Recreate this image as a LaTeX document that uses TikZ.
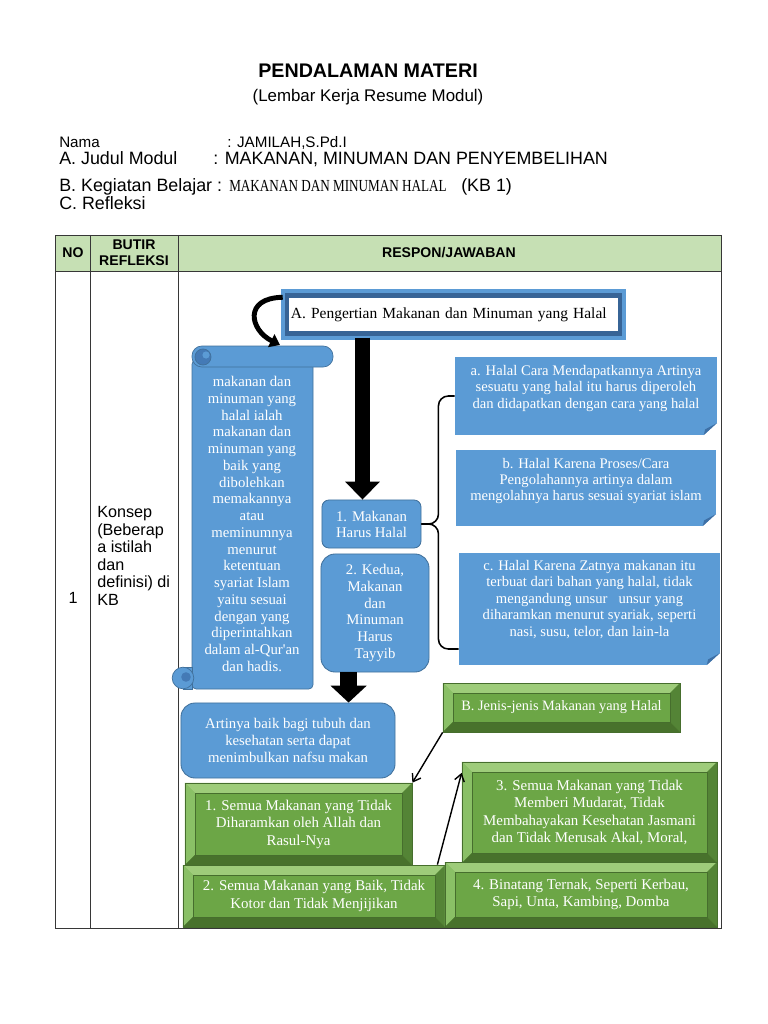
\documentclass[tikz,border=0pt]{standalone}
\usepackage{fontspec}
\setmainfont{Liberation Sans}
\newfontfamily\kbserif{Liberation Serif}
\newfontfamily\kbnarrow[FakeStretch=0.78]{Liberation Serif}
\usetikzlibrary{arrows.meta,positioning}

\definecolor{hdrgreen}{RGB}{198,224,180}
\definecolor{boxblue}{RGB}{91,155,213}
\definecolor{edgeblue}{RGB}{65,113,156}
\definecolor{framedark}{RGB}{55,100,150}
\definecolor{folddark}{RGB}{62,112,166}
\definecolor{scrolldark}{RGB}{68,122,182}
\definecolor{facegreen}{RGB}{108,166,70}
\definecolor{edgegreen}{RGB}{70,110,45}
\definecolor{bevtop}{RGB}{158,204,122}
\definecolor{bevleft}{RGB}{138,192,102}
\definecolor{bevright}{RGB}{84,132,54}
\definecolor{bevbot}{RGB}{72,114,44}
\definecolor{rulegray}{RGB}{55,55,55}

\begin{document}
\begin{tikzpicture}[
    x=0.025cm, y=-0.025cm,
    rule/.style={rulegray, line width=0.7pt},
    hdr/.style={font=\bfseries\fontsize{10}{11.5}\selectfont, align=center},
    info/.style={anchor=base west, inner sep=0pt, font=\fontsize{12.7}{14}\selectfont},
    bluebox/.style={rectangle, fill=boxblue, draw=edgeblue, line width=0.6pt, text=white,
        align=center, font=\kbserif\fontsize{10.5}{12}\selectfont},
    foldbox/.style={rectangle, fill=boxblue, text=white, align=center,
        font=\kbserif\fontsize{10.4}{11.7}\selectfont,
        path picture={
            \fill[white] ([xshift=-0.33cm]path picture bounding box.south east)
                -- (path picture bounding box.south east)
                -- ([yshift=0.3cm]path picture bounding box.south east) -- cycle;
            \fill[folddark] ([xshift=-0.33cm]path picture bounding box.south east)
                -- ([yshift=0.3cm]path picture bounding box.south east)
                -- ([shift={(-0.3cm,0.14cm)}]path picture bounding box.south east) -- cycle;
        }},
    greenbox/.style={rectangle, fill=facegreen, draw=edgegreen, line width=0.5pt, text=white,
        align=center, font=\kbserif\fontsize{10.6}{12.4}\selectfont,
        path picture={
            \coordinate (bnw) at (path picture bounding box.north west);
            \coordinate (bne) at (path picture bounding box.north east);
            \coordinate (bsw) at (path picture bounding box.south west);
            \coordinate (bse) at (path picture bounding box.south east);
            \fill[bevtop] (bnw) -- (bne) -- ([shift={(-0.25cm,-0.25cm)}]bne) -- ([shift={(0.25cm,-0.25cm)}]bnw) -- cycle;
            \fill[bevleft] (bnw) -- (bsw) -- ([shift={(0.25cm,0.25cm)}]bsw) -- ([shift={(0.25cm,-0.25cm)}]bnw) -- cycle;
            \fill[bevright] (bne) -- (bse) -- ([shift={(-0.25cm,0.25cm)}]bse) -- ([shift={(-0.25cm,-0.25cm)}]bne) -- cycle;
            \fill[bevbot] (bsw) -- (bse) -- ([shift={(-0.25cm,0.25cm)}]bse) -- ([shift={(0.25cm,0.25cm)}]bsw) -- cycle;
            \draw[edgegreen, line width=0.4pt] ([shift={(0.25cm,-0.25cm)}]bnw) rectangle ([shift={(-0.25cm,0.25cm)}]bse);
        }},
    bigarrow/.style={black, line width=10.6pt, -{Triangle[width=24pt, length=12.8pt]}},
    thinarrow/.style={black, line width=1pt, -{Straight Barb[length=5pt, width=7pt]}},
    brace/.style={black, line width=1.1pt, rounded corners=7pt}
]
\useasboundingbox[fill=white] (0,0) rectangle (768,1024);

% Heading
\node[font=\bfseries\fontsize{14}{16}\selectfont] (title) at (368,71) {PENDALAMAN MATERI};
\node[font=\fontsize{12}{14}\selectfont] (subtitle) at (368,97) {(Lembar Kerja Resume Modul)};

% Identity
\node[info, font=\fontsize{10.8}{13}\selectfont] (nama) at (59,148) {Nama};
\node[info, font=\fontsize{10.8}{13}\selectfont] (namaisi) at (227,148) {: JAMILAH,S.Pd.I};
\node[info] (judul) at (59,165) {A. Judul Modul};
\node[info] (judulisi) at (213,165) {: MAKANAN, MINUMAN DAN PENYEMBELIHAN};
\node[info] (kb) at (59,192) {B. Kegiatan Belajar :};
\node[info, font=\kbnarrow\fontsize{12}{13}\selectfont] (kbisi) at (229,192) {MAKANAN DAN MINUMAN HALAL};
\node[info] (kbno) at (461,192) {(KB 1)};
\node[info] (refleksi) at (59,210) {C. Refleksi};

% Table
\fill[hdrgreen] (55,235) rectangle (721,271);
\draw[rule] (55,235) rectangle (721,928);
\draw[rule] (55,271) -- (721,271);
\draw[rule] (90,235) -- (90,928);
\draw[rule] (178,235) -- (178,928);

\node[hdr] (hno) at (73,253) {NO};
\node[hdr] (hbutir) at (134,253) {BUTIR\\REFLEKSI};
\node[hdr] (hrespon) at (449,253) {RESPON/JAWABAN};

\node[font=\fontsize{11.5}{13}\selectfont] (no) at (73,598) {1};
\node[anchor=west, align=left, inner sep=0pt, font=\fontsize{11.5}{12.4}\selectfont] (butir) at (97,556)
    {Konsep\\(Beberap\\a istilah\\dan\\definisi) di\\KB};

% Title box
\node[rectangle, fill=white, draw=framedark, line width=4.6pt, minimum width=8.375cm, minimum height=1.0cm,
    inner xsep=0.125cm, text width=8.125cm, align=left, font=\kbserif\fontsize{11}{13}\selectfont] (pengertian) at (453.5,314.5)
    {A. Pengertian Makanan dan Minuman yang Halal};
\draw[boxblue, line width=3pt] (pengertian.north west) rectangle (pengertian.south east);

% Scroll
\fill[boxblue, draw=edgeblue, line width=0.5pt, rounded corners=3pt] (192,360) rectangle (313,689);
\fill[boxblue, draw=edgeblue, line width=0.5pt] (183,667) -- (192,667) -- (192,689) -- (183,689) -- cycle;
\fill[boxblue, draw=edgeblue, line width=0.5pt, rounded corners=7pt] (192,346) rectangle (333,367);
\fill[scrolldark, draw=edgeblue, line width=0.5pt] (203,357) circle (0.2cm);
\fill[boxblue] (206,355) circle (0.09cm);
\fill[boxblue, draw=edgeblue, line width=0.5pt] (183,678) circle (0.27cm);
\fill[scrolldark] (186,677) circle (0.12cm);
\node[text=white, align=center, font=\kbserif\fontsize{10.5}{11.9}\selectfont] (scrolltext) at (252,524)
    {makanan dan\\minuman yang\\halal ialah\\makanan dan\\minuman yang\\baik yang\\dibolehkan\\memakannya\\atau\\meminumnya\\menurut\\ketentuan\\syariat Islam\\yaitu sesuai\\dengan yang\\diperintahkan\\dalam al-Qur'an\\dan hadis.};
\coordinate (scrolltop) at (280,345);

% Blue boxes
\node[bluebox, rounded corners=5pt, minimum width=2.475cm, minimum height=1.2cm,
    font=\kbserif\fontsize{10.5}{11.3}\selectfont] (halal) at (371.5,524) {1. Makanan\\Harus Halal};
\node[bluebox, rounded corners=10pt, minimum width=2.7cm, minimum height=2.95cm,
    font=\kbserif\fontsize{10.5}{11.9}\selectfont] (tayyib) at (375,613)
    {2. Kedua,\\Makanan\\dan\\Minuman\\Harus\\Tayyib};
\node[bluebox, rounded corners=10pt, minimum width=5.35cm, minimum height=1.875cm] (artinya) at (288,740.5)
    {Artinya baik bagi tubuh dan\\kesehatan serta dapat\\menimbulkan nafsu makan};

% Folded boxes (text sits high above the fold)
\node[foldbox, minimum width=6.55cm, minimum height=1.95cm] (cara) at (586,396)
    {a. Halal Cara Mendapatkannya Artinya\\sesuatu yang halal itu harus diperoleh\\dan didapatkan dengan cara yang halal\\[-2pt]\strut};
\node[foldbox, minimum width=6.5cm, minimum height=1.9cm] (proses) at (586,488)
    {b. Halal Karena Proses/Cara\\Pengolahannya artinya dalam\\mengolahnya harus sesuai syariat islam\\[-3pt]\strut};
\node[foldbox, minimum width=6.525cm, minimum height=2.8cm] (zat) at (589.5,609)
    {c. Halal Karena Zatnya makanan itu\\terbuat dari bahan yang halal, tidak\\mengandung unsur \ \ unsur yang\\diharamkan menurut syariak, seperti\\nasi, susu, telor, dan lain-la\\[0pt]\strut};

% Green boxes
\node[greenbox, minimum width=5.925cm, minimum height=1.225cm, font=\kbserif\fontsize{10.2}{12}\selectfont] (jenis) at (561.5,707.5)
    {B. Jenis-jenis Makanan yang Halal};
\node[greenbox, minimum width=5.675cm, minimum height=2.05cm] (semua1) at (298.5,824)
    {1. Semua Makanan yang Tidak\\Diharamkan oleh Allah dan\\Rasul-Nya};
\node[greenbox, minimum width=6.55cm, minimum height=1.55cm] (semua2) at (314,896)
    {2. Semua Makanan yang Baik, Tidak\\Kotor dan Tidak Menjijikan};
\node[greenbox, minimum width=6.375cm, minimum height=2.525cm] (semua3) at (589.5,812.5)
    {3. Semua Makanan yang Tidak\\Memberi Mudarat, Tidak\\Membahayakan Kesehatan Jasmani\\dan Tidak Merusak Akal, Moral,};
\node[greenbox, minimum width=6.8cm, minimum height=1.625cm] (ternak) at (581,894.5)
    {4. Binatang Ternak, Seperti Kerbau,\\Sapi, Unta, Kambing, Domba};

% Arrows
\draw[black, line width=3.5pt, -{Triangle[width=10pt, length=7pt]}]
    ([yshift=-0.15cm]pengertian.north west) .. controls (243,298) and (250,330) .. (scrolltop);
\draw[bigarrow] ([xshift=-0.225cm]halal.north |- pengertian.south) -- ([xshift=-0.225cm]halal.north);
\draw[bigarrow, line width=12pt, -{Triangle[width=25pt, length=12pt]}]
    ([xshift=-0.66cm]tayyib.south) -- ([xshift=-0.66cm]tayyib.south |- artinya.north);
\draw[brace] (cara.west) -| ([xshift=0.425cm]halal.east) -- (halal.east);
\draw[brace] (halal.east) -- ([xshift=0.425cm]halal.east) |- ([yshift=-1cm]zat.west);
\draw[thinarrow] (jenis.south west) -- (semua1.north east);
\draw[thinarrow] ([xshift=-0.2cm]semua2.north east) -- ([yshift=-0.28cm]semua3.north west);

\end{tikzpicture}
\end{document}
